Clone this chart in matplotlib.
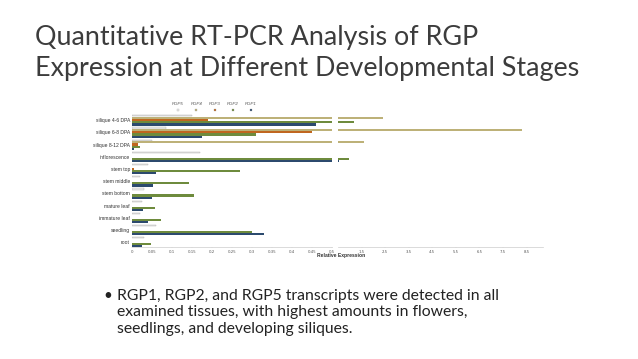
import matplotlib.pyplot as plt
import numpy as np
from matplotlib.lines import Line2D

# data
categories = ['silique 4-6 DPA', 'silique 6-8 DPA', 'silique 8-12 DPA', 'inflorescence',
              'stem top', 'stem middle', 'stem bottom', 'mature leaf', 'immature leaf',
              'seedling', 'root']
rgp5 = [0.15, 0.085, 0.05, 0.17, 0.04, 0.02, 0.03, 0.025, 0.02, 0.06, 0.03]
rgp4 = [2.4, 8.3, 1.6, 0, 0, 0, 0, 0, 0, 0, 0]
rgp3 = [0.19, 0.45, 0.015, 0, 0.004, 0, 0, 0, 0, 0, 0]
rgp2 = [1.17, 0.31, 0.02, 0.95, 0.27, 0.143, 0.155, 0.058, 0.073, 0.30, 0.048]
rgp1 = [0.46, 0.175, 0.005, 0.56, 0.06, 0.053, 0.05, 0.028, 0.04, 0.33, 0.025]
series_names = ['RGP5', 'RGP4', 'RGP3', 'RGP2', 'RGP1']

left_ticks = [0, 0.05, 0.1, 0.15, 0.2, 0.25, 0.3, 0.35, 0.4, 0.45, 0.5]
right_ticks = [1.5, 2.5, 3.5, 4.5, 5.5, 6.5, 7.5, 8.5]

colors = ['#eeeeee', '#bdb178', '#c0661f', '#6e8b3d', '#2c4a6e']

W, H = 638, 359
fig = plt.figure(figsize=(W / 100, H / 100), dpi=100)
fig.patch.set_facecolor('white')

# title and bullet
fig.text(35 / W, 1 - 25 / H, 'Quantitative RT-PCR Analysis of RGP\nExpression at Different Developmental Stages',
         fontsize=19.4, family='Lato', color='#3c3c3c', va='top', ha='left', linespacing=1.28)
fig.text(103 / W, 1 - 289 / H, '\u2022', fontsize=11, family='Lato', color='#222222', va='top')
fig.text(117 / W, 1 - 289 / H,
         'RGP1, RGP2, and RGP5 transcripts were detected in all\n'
         'examined tissues, with highest amounts in flowers,\n'
         'seedlings, and developing siliques.',
         fontsize=11.3, family='Lato', color='#222222', va='top', ha='left', linespacing=1.22)

bottom = 1 - 247 / H
height = (247 - 114) / H
ax1 = fig.add_axes([132 / W, bottom, 200 / W, height])
ax2 = fig.add_axes([338 / W, bottom, 205 / W, height])

y = np.arange(len(categories))
data = [rgp5, rgp4, rgp3, rgp2, rgp1]
offsets = [-0.36, -0.18, 0.0, 0.18, 0.36]

for ax in (ax1, ax2):
    for i, vals in enumerate(data):
        if i == 0:
            ax.barh(y + offsets[i], vals, height=0.1, color=colors[i],
                    edgecolor='#aaaaaa', linewidth=0.3)
        else:
            ax.barh(y + offsets[i], vals, height=0.19, color=colors[i], linewidth=0)
    ax.set_ylim(10.4, -0.5)
    for s in ['top', 'right', 'left']:
        ax.spines[s].set_visible(False)
    ax.spines['bottom'].set_color('#cccccc')
    ax.spines['bottom'].set_linewidth(0.5)
    ax.tick_params(axis='x', length=1, width=0.3, color='#cccccc', labelsize=2.8,
                   labelcolor='#555555', pad=1.5)

ax1.set_xlim(0, 0.5)
ax1.set_xticks(left_ticks)
ax1.set_xticklabels([str(t) for t in left_ticks])
ax1.set_yticks(y)
ax1.set_yticklabels(categories, fontsize=3.6, family='Liberation Sans', color='#333333')
ax1.tick_params(axis='y', length=0, pad=1.5)

ax2.set_xlim(0.5, 9.2)
ax2.set_xticks(right_ticks)
ax2.set_xticklabels([str(t) for t in right_ticks])
ax2.set_yticks([])

fig.text(317 / W, 1 - 256 / H, 'Relative Expression', fontsize=3.6, family='Liberation Sans',
         color='#333333', fontweight='bold', va='center', ha='left')

# legend: label above a small marker
for k, name in enumerate(series_names):
    lx = (178 + k * 18.3) / W
    fig.text(lx, 1 - 104 / H, name, fontsize=3.2, family='Liberation Sans', style='italic',
             color='#555555', ha='center', va='center')
    fig.add_artist(Line2D([lx], [1 - 110 / H], marker='s', markersize=1.6, linestyle='none',
                          markerfacecolor=colors[k], markeredgecolor='#999999',
                          markeredgewidth=0.2, transform=fig.transFigure))

fig.savefig('out.png', dpi=100)
